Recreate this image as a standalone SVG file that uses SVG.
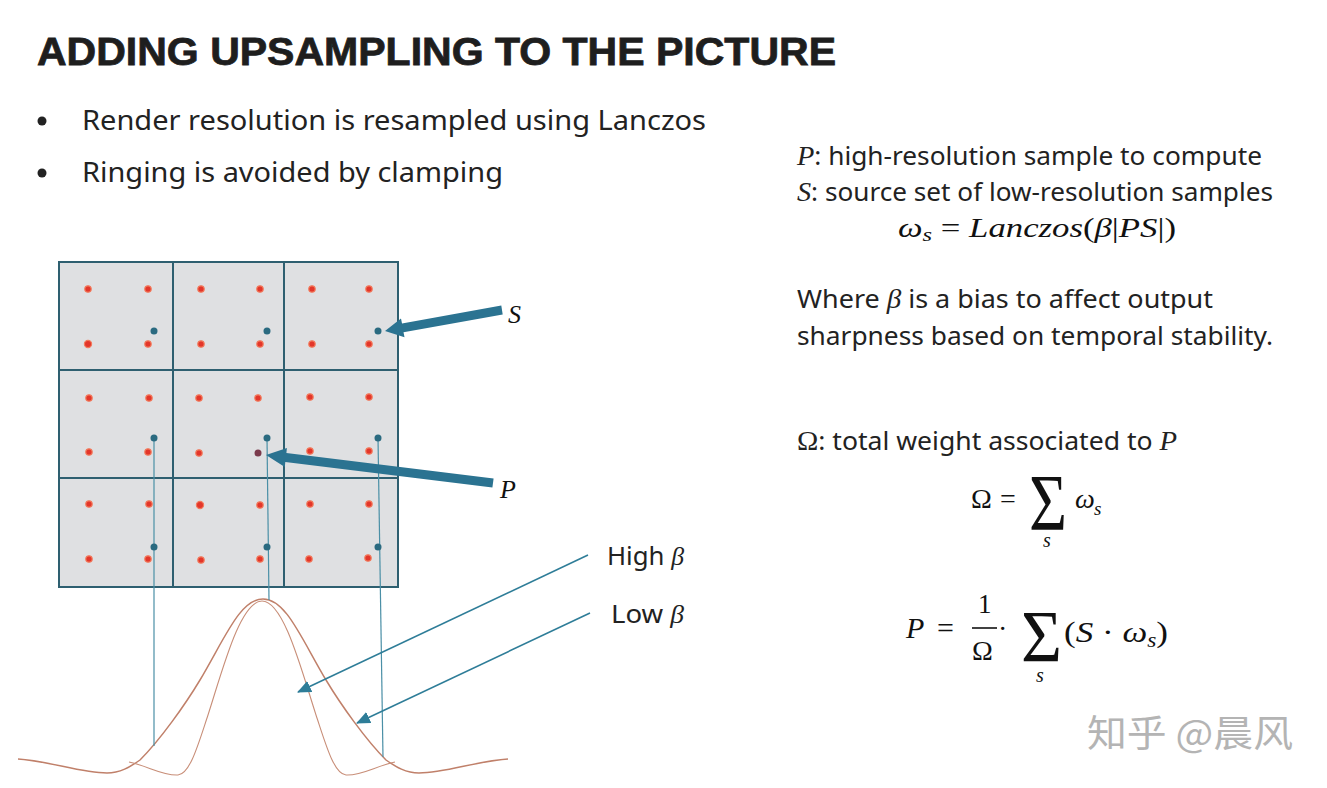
<svg xmlns="http://www.w3.org/2000/svg" width="1327" height="788" viewBox="0 0 1327 788">
<style>
.title{font-family:"Liberation Sans",Arial,sans-serif;font-weight:700;font-size:39px;fill:#1e1e1e;stroke:#1e1e1e;stroke-width:0.8}
.body{font-family:"Noto Sans","Open Sans",sans-serif;font-size:28px;fill:#222}
.rt{font-family:"Noto Sans","Open Sans",sans-serif;font-size:25px;fill:#222}
.mi{font-family:"Liberation Serif","DejaVu Serif",serif;font-style:italic}
.mu{font-family:"Liberation Serif","DejaVu Serif",serif;font-style:normal}
.m{font-family:"Liberation Serif","DejaVu Serif",serif;fill:#111}
.cell{fill:#dfe0e2;stroke:#2e5f70;stroke-width:2}
.rd{fill:#e3362a;stroke:#f27a5c;stroke-width:1.2}
.bd{fill:#2a6a80}
.vl{stroke:#4a8fa6;stroke-width:1.2;fill:none}
.cw{fill:none;stroke:#c0806a;stroke-width:1.5}
.cn{fill:none;stroke:#c88e78;stroke-width:1.1}
.fat{fill:#2b7391}
.thin{stroke:#2e7d98;stroke-width:1.6;fill:none}
.lbl{font-family:"Liberation Serif","DejaVu Serif",serif;font-style:italic;font-size:26px;fill:#111}
.wm{font-family:"Noto Sans CJK SC",sans-serif;font-size:37px;fill:#b4b4b4}
</style>
<defs>
<marker id="ah" markerUnits="userSpaceOnUse" markerWidth="16" markerHeight="12" refX="13" refY="6" orient="auto">
<path d="M0,0 L14,6 L0,12 Z" fill="#2e7d98"/>
</marker>
</defs>
<rect width="1327" height="788" fill="#ffffff"/>

<g id="title"><text class="title" x="37" y="65" textLength="799" lengthAdjust="spacingAndGlyphs">ADDING UPSAMPLING TO THE PICTURE</text></g>

<g id="bullets">
<circle cx="42" cy="121" r="4.5" fill="#222"/>
<text class="body" x="82" y="130" textLength="624" lengthAdjust="spacingAndGlyphs">Render resolution is resampled using Lanczos</text>
<circle cx="42" cy="173" r="4.5" fill="#222"/>
<text class="body" x="82" y="182" textLength="421" lengthAdjust="spacingAndGlyphs">Ringing is avoided by clamping</text>
</g>

<g id="grid">
<rect class="cell" x="59" y="262" width="114" height="108"/>
<rect class="cell" x="173" y="262" width="111" height="108"/>
<rect class="cell" x="284" y="262" width="114" height="108"/>
<rect class="cell" x="59" y="370" width="114" height="108"/>
<rect class="cell" x="173" y="370" width="111" height="108"/>
<rect class="cell" x="284" y="370" width="114" height="108"/>
<rect class="cell" x="59" y="478" width="114" height="109"/>
<rect class="cell" x="173" y="478" width="111" height="109"/>
<rect class="cell" x="284" y="478" width="114" height="109"/>
</g>

<g id="red-samples">
<circle class="rd" cx="88" cy="289" r="3.2"/><circle class="rd" cx="148" cy="289" r="3.2"/><circle class="rd" cx="201" cy="289" r="3.2"/><circle class="rd" cx="260" cy="289" r="3.2"/><circle class="rd" cx="312" cy="289" r="3.2"/><circle class="rd" cx="369" cy="289" r="3.2"/>
<circle class="rd" cx="88" cy="344" r="3.6"/><circle class="rd" cx="148" cy="344" r="3.2"/><circle class="rd" cx="201" cy="344" r="3.2"/><circle class="rd" cx="260" cy="344" r="3.2"/><circle class="rd" cx="312" cy="344" r="3.2"/><circle class="rd" cx="369" cy="344" r="3.2"/>
<circle class="rd" cx="89" cy="398" r="3.2"/><circle class="rd" cx="149" cy="398" r="3.2"/><circle class="rd" cx="199" cy="398" r="3.2"/><circle class="rd" cx="258" cy="398" r="3.2"/><circle class="rd" cx="310" cy="397" r="3.2"/><circle class="rd" cx="369" cy="397" r="3.2"/>
<circle class="rd" cx="89" cy="452" r="3.2"/><circle class="rd" cx="148" cy="452" r="3.2"/><circle class="rd" cx="199" cy="453" r="3.2"/><circle class="rd" cx="310" cy="451" r="3.2"/><circle class="rd" cx="369" cy="451" r="3.2"/>
<circle class="rd" cx="89" cy="504" r="3.2"/><circle class="rd" cx="149" cy="504" r="3.2"/><circle class="rd" cx="200" cy="505" r="3.6"/><circle class="rd" cx="260" cy="505" r="3.2"/><circle class="rd" cx="310" cy="504" r="3.2"/><circle class="rd" cx="369" cy="504" r="3.2"/>
<circle class="rd" cx="89" cy="559" r="3.2"/><circle class="rd" cx="148" cy="559" r="3.2"/><circle class="rd" cx="201" cy="560" r="3.2"/><circle class="rd" cx="260" cy="559" r="3.2"/><circle class="rd" cx="309" cy="559" r="3.2"/><circle class="rd" cx="368" cy="558" r="3.2"/>
</g>

<g id="curves">
<path class="cw" d="M18,759 C50,761 80,773 107,773 C120,773 130,767 140,760 C160,740 185,705 200,680 C225,638 240,599 263,599 C286,599 301,638 326,680 C341,705 366,740 386,760 C396,767 406,773 419,773 C446,773 476,761 508,759"/>
<path class="cn" d="M129,762 C148,766 163,776 178,775 C190,774 198,745 208,715 C222,672 240,601 262,601 C284,601 302,672 316,715 C326,745 334,774 346,775 C361,776 376,766 395,762"/>
</g>

<g id="connectors">
<line class="vl" x1="154" y1="438" x2="154" y2="746"/>
<line class="vl" x1="267" y1="438" x2="269" y2="600"/>
<line class="vl" x1="378" y1="438" x2="383" y2="757"/>
<polygon class="fat" points="501.3,305.6 402,323.6 401,318.6 385,331 404.5,337.2 403.5,332.2 502.7,314.4"/>
<polygon class="fat" points="493.6,478.5 286.4,453 286.9,448 266,455 284.8,466.9 285.3,461.9 492.4,487.5"/>
<line class="thin" x1="588" y1="555" x2="298" y2="692" marker-end="url(#ah)"/>
<line class="thin" x1="590" y1="613" x2="357" y2="723" marker-end="url(#ah)"/>
</g>

<g id="source-samples">
<circle class="bd" cx="154" cy="331" r="3.5"/><circle class="bd" cx="267" cy="331" r="3.5"/><circle class="bd" cx="378" cy="331" r="3.5"/>
<circle class="bd" cx="154" cy="438" r="3.5"/><circle class="bd" cx="267" cy="438" r="3.5"/><circle class="bd" cx="378" cy="438" r="3.5"/>
<circle class="bd" cx="154" cy="547" r="3.5"/><circle class="bd" cx="267" cy="547" r="3.5"/><circle class="bd" cx="378" cy="547" r="3.5"/>
</g>
<g id="p-sample"><circle cx="258" cy="453" r="3.5" fill="#7a3a4c"/></g>

<g id="label-S"><text class="lbl" x="508" y="323">S</text></g>
<g id="label-P"><text class="lbl" x="500" y="498">P</text></g>
<g id="label-high"><text class="rt" x="607" y="565" textLength="77" lengthAdjust="spacingAndGlyphs">High <tspan class="mi">β</tspan></text></g>
<g id="label-low"><text class="rt" x="611" y="623" textLength="73" lengthAdjust="spacingAndGlyphs">Low <tspan class="mi">β</tspan></text></g>

<g id="definitions">
<text class="rt" x="797" y="165" textLength="465" lengthAdjust="spacingAndGlyphs"><tspan class="mi" font-size="27">P</tspan>: high-resolution sample to compute</text>
<text class="rt" x="797" y="201" textLength="476" lengthAdjust="spacingAndGlyphs"><tspan class="mi" font-size="27">S</tspan>: source set of low-resolution samples</text>
<text class="m" font-size="27" x="898" y="237" textLength="278" lengthAdjust="spacingAndGlyphs"><tspan class="mi">ω</tspan><tspan class="mi" font-size="19" dy="4">s</tspan><tspan dy="-4"> = </tspan><tspan class="mi">Lanczos</tspan>(<tspan class="mi">β</tspan>|<tspan class="mi">PS</tspan>|)</text>
<text class="rt" x="797" y="308" textLength="416" lengthAdjust="spacingAndGlyphs">Where <tspan class="mi" font-size="27">β</tspan> is a bias to affect output</text>
<text class="rt" x="797" y="345" textLength="476" lengthAdjust="spacingAndGlyphs">sharpness based on temporal stability.</text>
<text class="rt" x="797" y="450" textLength="380" lengthAdjust="spacingAndGlyphs"><tspan class="mu" font-size="27">Ω</tspan>: total weight associated to <tspan class="mi" font-size="27">P</tspan></text>
</g>

<g id="omega-formula">
<text class="m" font-size="28" x="971" y="508">Ω</text>
<text class="m" font-size="28" x="1000" y="508">=</text>
<text class="m"><tspan font-size="80" x="1029" y="530" textLength="38" lengthAdjust="spacingAndGlyphs">Σ</tspan><tspan class="mi" font-size="20" x="1043" y="547">s</tspan></text>
<text class="m mi" font-size="28" x="1075" y="508">ω</text>
<text class="m mi" font-size="19" x="1094" y="515">s</text>
</g>

<g id="p-formula">
<text class="m mi" font-size="30" x="906" y="638">P</text>
<text class="m" font-size="30" x="937" y="638">=</text>
<text class="m" font-size="27" x="978" y="613">1</text>
<line x1="972" y1="628" x2="997" y2="628" stroke="#111" stroke-width="1.6"/>
<text class="m" font-size="28" x="972" y="660">Ω</text>
<text class="m" font-size="28" x="998" y="638">·</text>
<text class="m"><tspan font-size="74" x="1021" y="662" textLength="41" lengthAdjust="spacingAndGlyphs">Σ</tspan><tspan class="mi" font-size="20" x="1036" y="682">s</tspan></text>
<text class="m" font-size="30" x="1064" y="642" textLength="104" lengthAdjust="spacingAndGlyphs">(<tspan class="mi">S</tspan> · <tspan class="mi">ω</tspan><tspan class="mi" font-size="20" dy="5">s</tspan><tspan dy="-5">)</tspan></text>
</g>

<g id="watermark"><text class="wm" x="1087" y="747" textLength="206" lengthAdjust="spacingAndGlyphs">知乎 @晨风</text></g>
</svg>
